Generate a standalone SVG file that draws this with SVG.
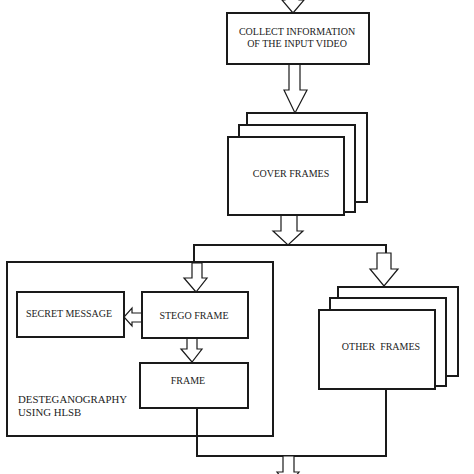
<svg xmlns="http://www.w3.org/2000/svg" width="474" height="474" viewBox="0 0 474 474">
<style>
.box{fill:#fff;stroke:#1a1a1a;stroke-width:2}
.arr{fill:#fff;stroke:#1a1a1a;stroke-width:1.2;stroke-linejoin:miter}
.ln{fill:none;stroke:#1a1a1a;stroke-width:2}
text{font-family:"Liberation Serif","Times New Roman",serif;font-size:10px;fill:#222;text-anchor:middle;letter-spacing:0}
.lbl{font-size:10.8px;text-anchor:start}
</style>
<rect width="474" height="474" fill="#fff"/>
<g id="connectors">
<polygon class="arr" points="285,-2 299,-2 299,0 304,0 293,13 282,0 285,0"/>
<polygon class="arr" points="289,64 300,64 300,90 307,90 295,113 284,90 289,90"/>
<polygon class="arr" points="281,215 297,215 297,231 303,231 288,245 273,231 281,231"/>
<polyline class="ln" points="194,262 194,245 386,245 386,253"/>
<polygon class="arr" points="192,263 202,263 202,278 207,278 196,292 184,278 192,278"/>
<polygon class="arr" points="377,253 391,253 391,269 398,269 384,286 370,269 377,269"/>
<polygon class="arr" points="142,313 132,313 132,308 124,317 132,326 132,322 142,322"/>
<polygon class="arr" points="187,338 197,338 197,349 202,349 192,362 181,349 187,349"/>
<polyline class="ln" points="197,408 197,456 386,456 386,389"/>
<polygon class="arr" points="283,456 294,456 294,472 299,472 288,486 277,472 283,472"/>
</g>
<g id="collect">
<rect class="box" x="227" y="13" width="142" height="51"/>
<text x="297" y="35">COLLECT INFORMATION</text>
<text x="297" y="47">OF THE INPUT VIDEO</text>
</g>
<g id="cover-frames">
<rect class="box" x="247" y="113" width="120" height="89"/>
<rect class="box" x="239" y="125" width="116" height="87"/>
<rect class="box" x="228" y="137" width="116" height="78"/>
<text x="291" y="177">COVER FRAMES</text>
</g>
<g id="desteganography">
<rect class="box" x="7" y="262" width="266" height="174" style="fill:none"/>
<text class="lbl" x="18" y="403">DESTEGANOGRAPHY</text>
<text class="lbl" x="18" y="416">USING HLSB</text>
</g>
<g id="secret-message">
<rect class="box" x="17" y="292" width="107" height="45"/>
<text x="69" y="317">SECRET MESSAGE</text>
</g>
<g id="stego-frame">
<rect class="box" x="142" y="292" width="106" height="46"/>
<text x="194" y="319">STEGO FRAME</text>
</g>
<g id="frame">
<rect class="box" x="140" y="363" width="108" height="45"/>
<text x="188" y="384">FRAME</text>
</g>
<g id="other-frames">
<rect class="box" x="338" y="287" width="120" height="89"/>
<rect class="box" x="330" y="298" width="116" height="88"/>
<rect class="box" x="319" y="310" width="116" height="79"/>
<text x="381" y="350" style="white-space:pre">OTHER  FRAMES</text>
</g>
</svg>
